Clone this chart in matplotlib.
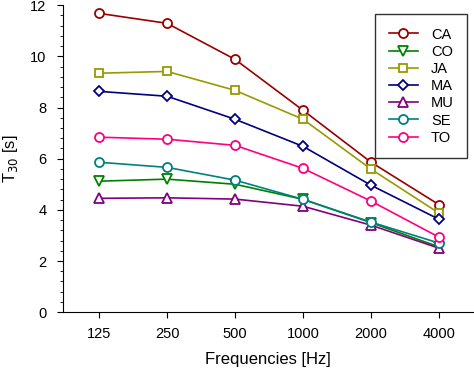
import numpy as np
import matplotlib
matplotlib.use("Agg")
import matplotlib.pyplot as plt
from matplotlib.ticker import AutoMinorLocator

plt.rcParams['font.family'] = ['Liberation Sans', 'DejaVu Sans']

freqs = ["125", "250", "500", "1000", "2000", "4000"]

ca = [11.68, 11.29, 9.88, 7.89, 5.86, 4.20]
co = [5.12, 5.20, 5.00, 4.41, 3.50, 2.55]
ja = [9.34, 9.41, 8.67, 7.54, 5.59, 3.87]
ma = [8.63, 8.44, 7.54, 6.48, 4.96, 3.63]
mu = [4.45, 4.47, 4.42, 4.14, 3.40, 2.50]
se = [5.86, 5.66, 5.16, 4.41, 3.52, 2.70]
to = [6.84, 6.76, 6.52, 5.62, 4.34, 2.93]

names = ["CA", "CO", "JA", "MA", "MU", "SE", "TO"]
series = [ca, co, ja, ma, mu, se, to]
colors = ["#990000", "#008000", "#999900", "#000080", "#800080", "#008080", "#FF0080"]
markers = ["o", "v", "s", "D", "^", "o", "o"]
msizes = [6.5, 6.5, 5.5, 5.5, 6.5, 6.5, 6.5]

fig = plt.figure(figsize=(4.74, 3.69), dpi=100)
ax = fig.add_axes([0.133, 0.154, 0.865, 0.832])

x = np.arange(len(freqs))
for vals, name, c, m, ms in zip(series, names, colors, markers, msizes):
    ax.plot(x, vals, color=c, marker=m, markersize=ms, markerfacecolor="white",
            markeredgecolor=c, markeredgewidth=1.3, linewidth=1.2, label=name)

ax.set_xlim(-0.53, 5.5)
ax.set_ylim(0, 12)
ax.set_xticks(x)
ax.set_xticklabels(freqs)
ax.set_yticks(np.arange(0, 13, 2))
ax.yaxis.set_minor_locator(AutoMinorLocator(5))
ax.tick_params(axis='both', which='major', direction='out', length=4, labelsize=10.5)
ax.tick_params(axis='x', which='major', pad=7)
ax.tick_params(axis='y', which='major', pad=8)
ax.tick_params(axis='y', which='minor', direction='out', length=2)
ax.spines['top'].set_visible(False)
ax.spines['right'].set_visible(False)

ax.set_xlabel("Frequencies [Hz]", fontsize=12)
ax.set_ylabel("T$_{30}$ [s]", fontsize=12)
ax.xaxis.set_label_coords(0.5, -0.13)
ax.yaxis.set_label_coords(-0.105, 0.5)

leg = ax.legend(loc="upper right", bbox_to_anchor=(0.985, 0.97), borderaxespad=0,
                fancybox=False, edgecolor="black", fontsize=10.5, handlelength=2.0,
                borderpad=0.9, labelspacing=0.22, handletextpad=0.9)
leg.get_frame().set_linewidth(1.0)

fig.savefig("out.png", dpi=100)
